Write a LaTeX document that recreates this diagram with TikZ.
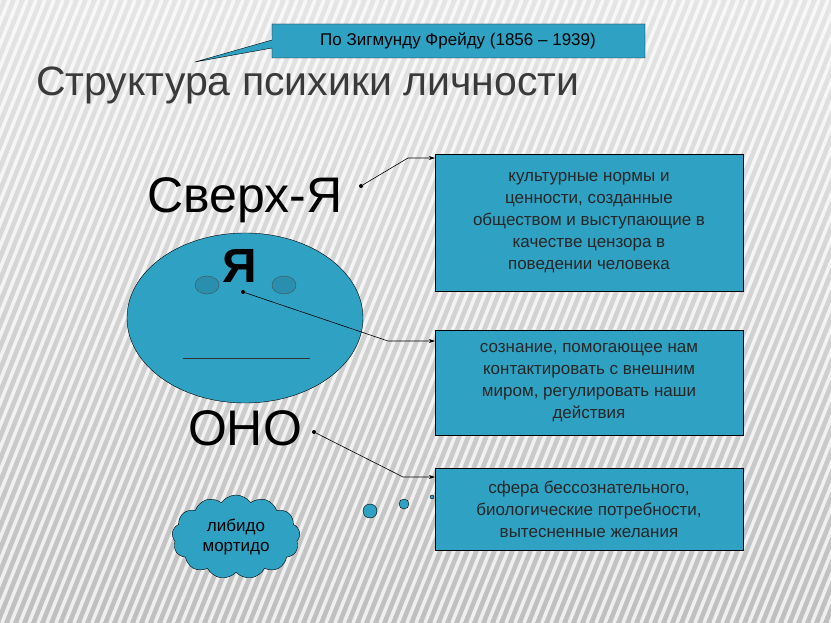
\documentclass[tikz,border=0pt]{standalone}
\usepackage{fontspec}
\setmainfont{Liberation Sans}
\usetikzlibrary{shapes.symbols,shapes.geometric,arrows.meta}
\definecolor{teal1}{HTML}{2FA2C4}
\definecolor{tealeye}{HTML}{2A8FAE}
\definecolor{titlegray}{HTML}{3A3A3A}
\tikzset{
 infobox/.style={draw=black,fill=teal1,align=center,font=\fontsize{17}{22}\selectfont,text=black!85,inner sep=0pt},
 conn/.style={draw=black,line width=0.6pt,-{Stealth[length=6pt,width=4pt]}},
 dotmark/.style={circle,fill=black,inner sep=0pt,minimum size=4pt},
 bigtxt/.style={font=\fontsize{50}{54}\selectfont}
}
\begin{document}
\begin{tikzpicture}[x=1pt,y=-1pt]
\path[use as bounding box, top color=gray!20, bottom color=gray!50] (0,0) rectangle (831,623);
\foreach \i in {0,9,...,1100}{\draw[white,line width=3.5pt,opacity=0.75] (\i-250,623) -- (\i,0);}
% callout
\fill[teal1,draw=black,line width=0.4pt] (272,24) -- (645,24) -- (645,58) -- (272,58) -- (272,48) -- (195,62) -- (272,40) -- cycle;
\node[font=\fontsize{17}{20}\selectfont] (cap) at (458,41) {По Зигмунду Фрейду (1856 – 1939)};
\node[anchor=base west,font=\fontsize{41}{46}\selectfont,text=titlegray,inner sep=0pt] (title) at (36,96) {Структура психики личности};
% boxes
\node[infobox,minimum width=308,minimum height=137] (b1) at (589,223) {культурные нормы и\\ценности, созданные\\обществом и выступающие в\\качестве цензора в\\поведении человека};
\node[infobox,minimum width=308,minimum height=105] (b2) at (589,383) {сознание, помогающее нам\\контактировать с внешним\\миром, регулировать наши\\действия};
\node[infobox,minimum width=308,minimum height=82] (b3) at (589,509) {сфера бессознательного,\\биологические потребности,\\вытесненные желания};
% ellipse
\node[draw=black,fill=teal1,ellipse,minimum width=236,minimum height=170,inner sep=0pt] (ego) at (245,318) {};
\draw[fill=tealeye,draw=black!70] (207,285) ellipse (12 and 9);
\draw[fill=tealeye,draw=black!70] (284,285) ellipse (12 and 9);
\node[font=\fontsize{48}{50}\selectfont\bfseries] (ya) at (240,266) {Я};
\draw[black!80,line width=0.6pt] (183,358) -- (310,358);
\node[bigtxt] (sup) at (245,200) {Сверх-Я};
\node[bigtxt] (id) at (245,428) {ОНО};
% connectors
\node[dotmark] (d1) at (361,186) {};
\node[dotmark] (d2) at (243,292) {};
\node[dotmark] (d3) at (314,432) {};
\coordinate (k1) at (408,158);
\coordinate (k2) at (388,341);
\coordinate (k3) at (403,477);
\draw[conn] (d1) -- (k1) -- (b1.west |- k1);
\draw[conn] (d2) -- (k2) -- (b2.west |- k2);
\draw[conn] (d3) -- (k3) -- (b3.west |- k3);
% bubbles and cloud
\draw[fill=teal1] (370,511) circle (7);
\draw[fill=teal1] (404,504) circle (5);
\draw[fill=teal1] (432,497) circle (2);
\node[cloud,draw=black,fill=teal1,cloud puffs=13,cloud puff arc=110,aspect=1.5,minimum width=128,minimum height=84,inner sep=0pt,align=center,font=\fontsize{17}{20}\selectfont] (libido) at (236,537) {либидо\\мортидо};
\end{tikzpicture}
\end{document}
